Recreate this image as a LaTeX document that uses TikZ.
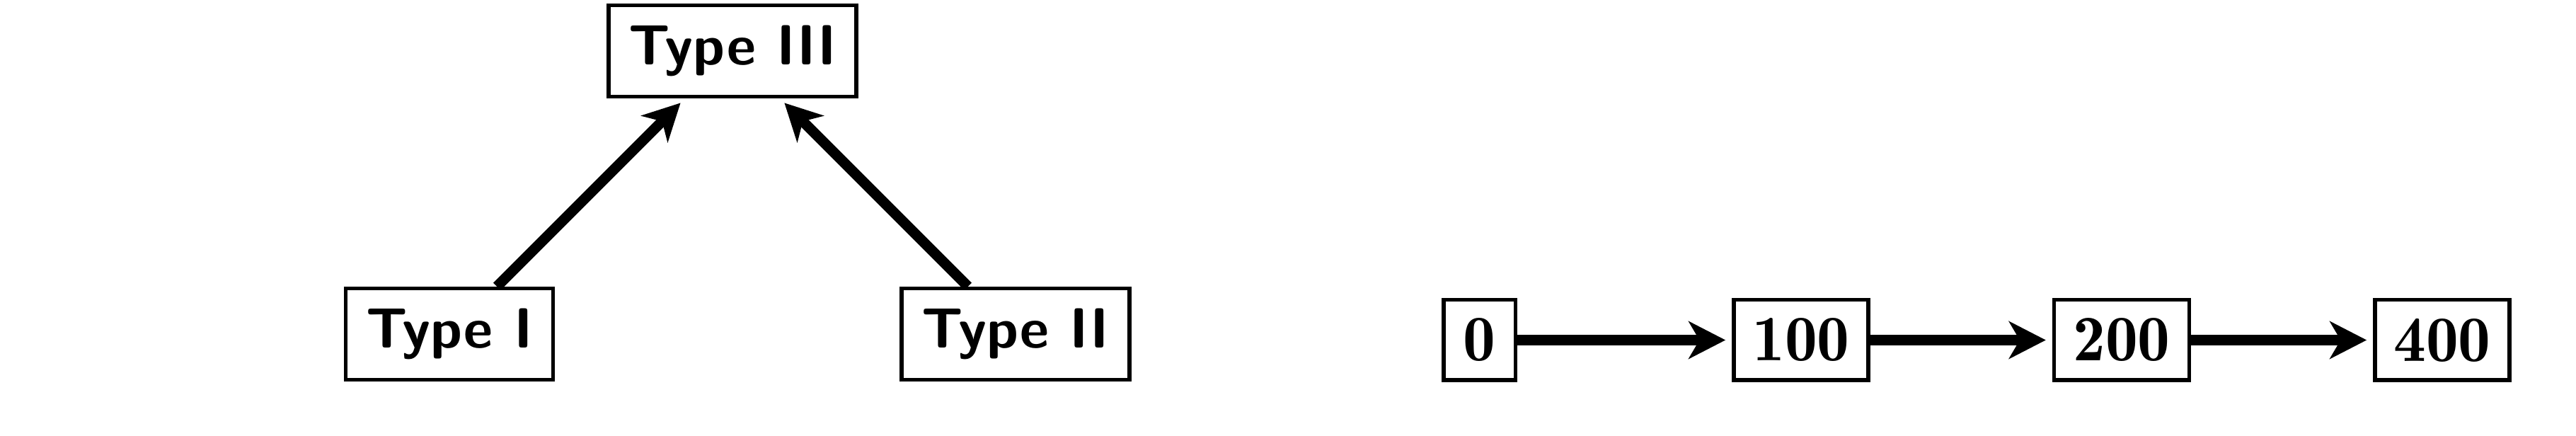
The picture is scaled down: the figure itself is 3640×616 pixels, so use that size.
\documentclass[tikz,border=0pt]{standalone}
\usetikzlibrary{arrows.meta}
\begin{document}
\begin{tikzpicture}[x=0.125pt,y=-0.125pt,
  tbox/.style={draw, line width=0.7pt, inner sep=0pt, outer sep=0.35pt,
    minimum height=16.1pt, font=\fontsize{10}{12}\sffamily\bfseries},
  nbox/.style={draw, line width=0.7pt, inner sep=0pt, outer sep=0.35pt,
    minimum height=14.2pt, font=\fontsize{11.45}{13}\fontseries{b}\selectfont},
  conn/.style={line width=1.84pt, shorten >=1.1pt,
    -{Stealth[length=6.5pt,width=6.6pt,inset=1.9pt]}}]
\useasboundingbox (0,0) rectangle (3640,616);
\node[tbox, minimum width=36.6pt] (t1) at (635,472) {Type I};
\node[tbox, minimum width=40.2pt] (t2) at (1435,472) {Type II};
\node[tbox, minimum width=43.8pt] (t3) at (1035,72) {Type III};
\node[nbox, minimum width=12.7pt] (n0) at (2090.5,480.5) {0};
\node[nbox, minimum width=23.8pt] (n1) at (2545,480.5) {100};
\node[nbox, minimum width=23.9pt] (n2) at (2998,480.5) {200};
\node[nbox, minimum width=23.8pt] (n4) at (3451,480.5) {400};
\draw[conn] (t1) -- (t3);
\draw[conn] (t2) -- (t3);
\draw[conn] (n0) -- (n1);
\draw[conn] (n1) -- (n2);
\draw[conn] (n2) -- (n4);
\end{tikzpicture}
\end{document}
